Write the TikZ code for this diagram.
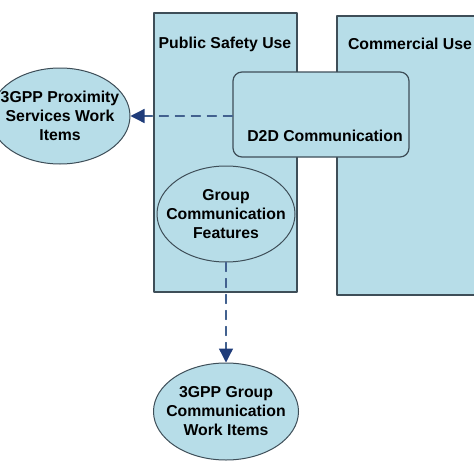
\documentclass[tikz,border=0pt]{standalone}
\usepackage{fontspec}
\setmainfont{Liberation Sans}
\usetikzlibrary{arrows.meta}
\usetikzlibrary{shapes.geometric}
\definecolor{paleblue}{HTML}{B7DDE8}
\definecolor{edgegray}{HTML}{3E4E58}
\definecolor{dashblue}{HTML}{42618F}
\definecolor{tipblue}{HTML}{1F3C7A}

\begin{document}
\begin{tikzpicture}[line cap=round,line join=round,x=1pt,y=-1pt,
  lane/.style={draw=edgegray,fill=paleblue,line width=1.2pt,rectangle,inner sep=0pt},
  item/.style={draw=edgegray,fill=paleblue,line width=1pt,ellipse,inner xsep=-12pt,inner ysep=0pt,
    align=center,font=\fontsize{15.8}{19}\selectfont\bfseries},
  title/.style={font=\fontsize{15.8}{19}\selectfont\bfseries},
  link/.style={dashblue,line width=1.3pt,dash pattern=on 9pt off 7pt,
    -{Triangle[length=14pt,width=14pt,color=tipblue]}}]
\useasboundingbox (0,0) rectangle (474,474);
\fill[white] (0,0) rectangle (474,474);
% the two use areas
\node[lane,minimum width=143,minimum height=279] (safety) at (225.5,152.5) {};
\node[lane,minimum width=146,minimum height=279] (commercial) at (410,155.5) {};
\node[title] (safetyname) at (225,44) {Public Safety Use};
\node[title] (commercialname) at (410,44) {Commercial Use};
% shared part
\node[lane,rounded corners=9pt,minimum width=176,minimum height=85] (d2d) at (321,114.5) {};
\node[title] (d2dname) at (325,136) {D2D Communication};
% work items
\node[item,minimum width=140,minimum height=96] (prose) at (60,116) {3GPP Proximity\\Services Work\\Items};
\node[item,minimum width=138,minimum height=96] (group) at (226,214) {Group\\Communication\\Features};
\node[item,minimum width=145,minimum height=97] (gcse) at (226,411.5) {3GPP Group\\Communication\\Work Items};
% relations
\draw[link] (d2d.west |- prose.east) -- (prose.east);
\draw[link] (group.south) -- (gcse.north);
\end{tikzpicture}
\end{document}
